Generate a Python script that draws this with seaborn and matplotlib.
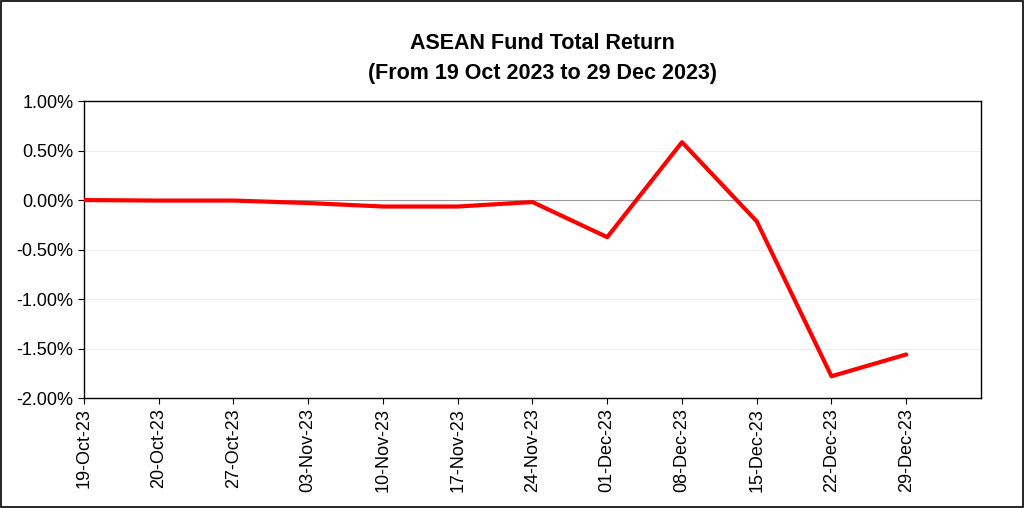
import matplotlib
matplotlib.use("Agg")
import matplotlib.pyplot as plt
import seaborn as sns
import pandas as pd
from matplotlib.ticker import FuncFormatter, MultipleLocator

dates = ["19-Oct-23","20-Oct-23","27-Oct-23","03-Nov-23","10-Nov-23","17-Nov-23",
         "24-Nov-23","01-Dec-23","08-Dec-23","15-Dec-23","22-Dec-23","29-Dec-23"]
returns = [0.00, -0.005, -0.005, -0.03, -0.065, -0.065, -0.02, -0.375, 0.585, -0.215, -1.78, -1.56]

sns.set_style("white")
plt.rcParams['font.family'] = ['Liberation Sans', 'DejaVu Sans']
plt.rcParams['text.color'] = 'black'
plt.rcParams['xtick.color'] = 'black'
plt.rcParams['ytick.color'] = 'black'

df = pd.DataFrame({"x": range(len(dates)), "r": returns})
fig = plt.figure(figsize=(10.24, 5.08), dpi=100)
fig.patches.append(plt.Rectangle((0.001, 0.001), 0.998, 0.997, transform=fig.transFigure,
                                 fill=False, edgecolor="black", lw=1.2))
ax = fig.add_axes([0.082, 0.2165, 0.876, 0.5845])
for v in [0.5, -0.5, -1.0, -1.5]:
    ax.axhline(v, color="#eeeeee", lw=0.8, zorder=0)
ax.axhline(0, color="#999999", lw=0.8, zorder=1)
sns.lineplot(data=df, x="x", y="r", color="red", lw=3, ax=ax, zorder=3)
ax.set_xlim(0, 12)
ax.set_ylim(-2, 1)
ax.yaxis.set_major_locator(MultipleLocator(0.5))
ax.yaxis.set_major_formatter(FuncFormatter(lambda v, p: f"{v:.2f}%"))
ax.set_xticks(range(len(dates)))
ax.set_xticklabels(dates, rotation=90, fontsize=13)
ax.tick_params(axis='y', labelsize=13)
ax.tick_params(axis='both', length=4, direction='out', left=True, bottom=True, colors='black')
for s in ax.spines.values():
    s.set_color("black"); s.set_linewidth(1)
ax.set_xlabel(""); ax.set_ylabel("")
fig.text(0.53, 0.915, "ASEAN Fund Total Return", ha="center", va="center",
         fontsize=15.5, fontweight="bold", color="black")
fig.text(0.53, 0.855, "(From 19 Oct 2023 to 29 Dec 2023)", ha="center", va="center",
         fontsize=15.5, fontweight="bold", color="black")
fig.savefig("out.png", dpi=100)
